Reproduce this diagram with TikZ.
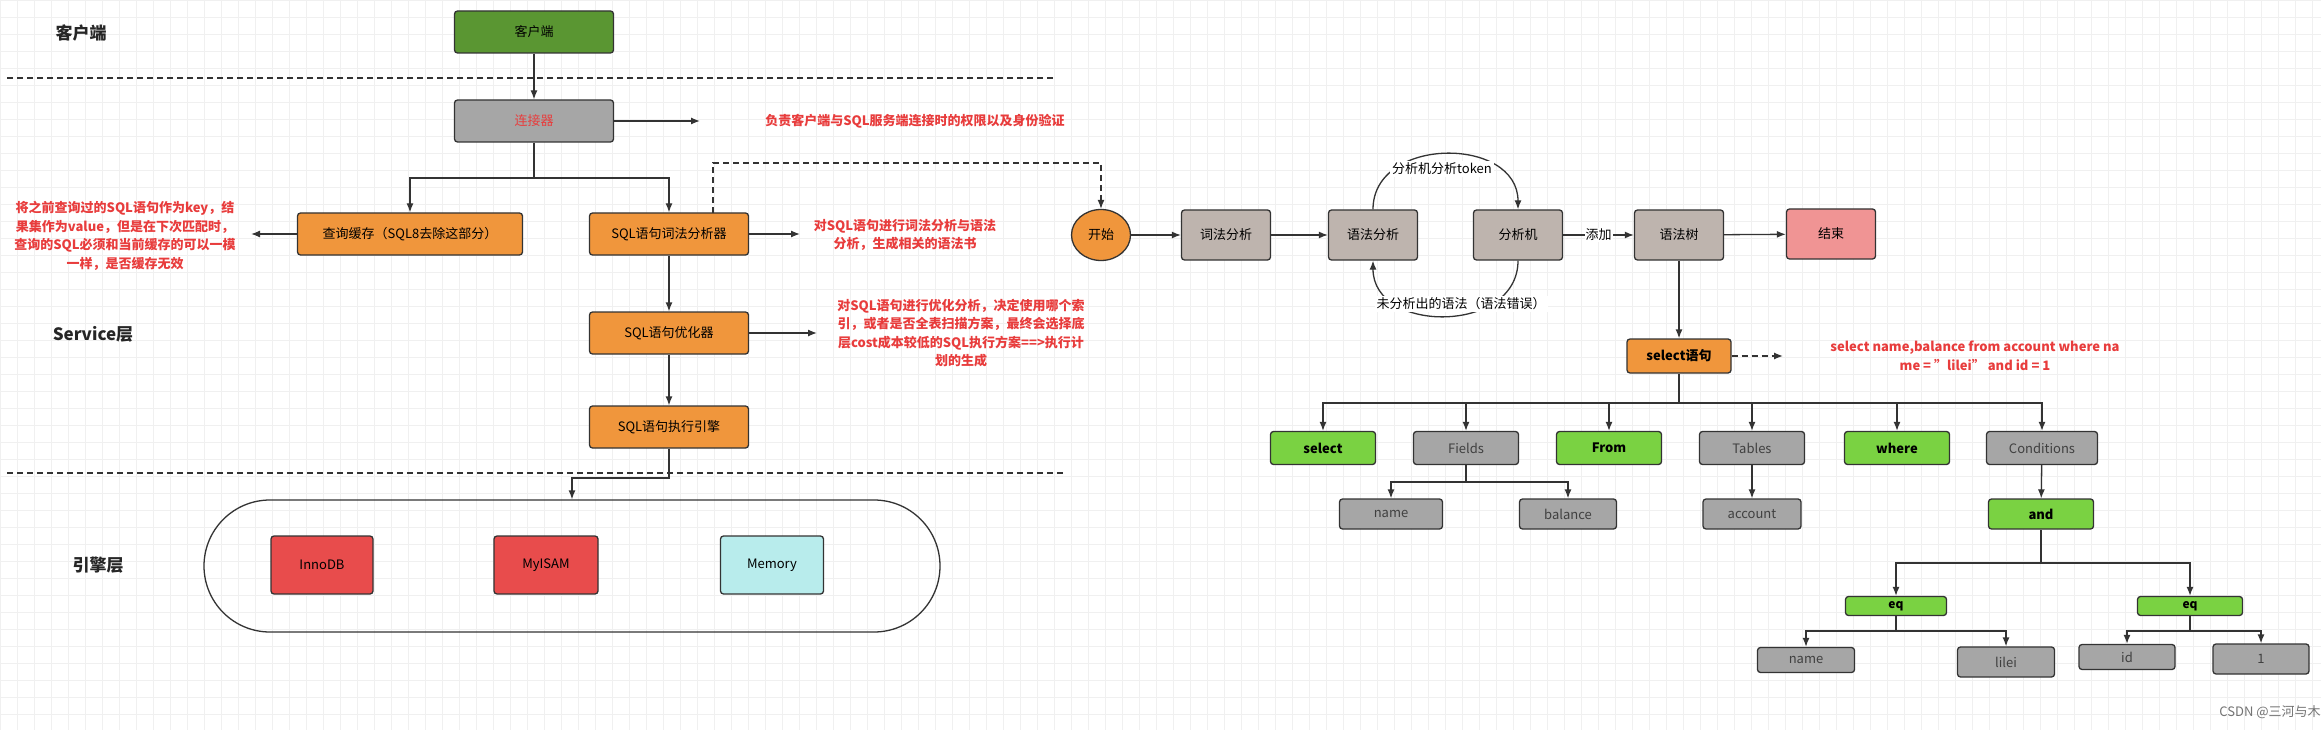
\documentclass[tikz,border=0pt]{standalone}
\usepackage{fontspec}
\setmainfont{Noto Sans CJK SC}
\usetikzlibrary{arrows.meta,shapes.geometric}
\definecolor{gr}{HTML}{5A9632}
\definecolor{og}{HTML}{F0963C}
\definecolor{gy}{HTML}{A6A6A6}
\definecolor{br}{HTML}{BEB4AE}
\definecolor{lg}{HTML}{7AD242}
\definecolor{rd}{HTML}{E84C4C}
\definecolor{pk}{HTML}{F09494}
\definecolor{cy}{HTML}{B8ECEC}
\definecolor{tx}{HTML}{E83C3C}
\definecolor{lc}{HTML}{333333}
\tikzset{
 box/.style={draw=lc,line width=1.3pt,rounded corners=3pt,font=\fontsize{13}{15}\selectfont,inner sep=0pt},
 ob/.style={box,fill=og,minimum width=159pt,minimum height=42pt},
 tb/.style={box,fill=br,minimum width=89pt,minimum height=50pt},
 l1/.style={box,minimum width=105pt,minimum height=33pt},
 l2/.style={box,fill=gy,minimum width=100pt,minimum height=30pt,text=black!75},
 arr/.style={draw=lc,line width=1.3pt,-{Latex[length=9pt,width=7pt]}},
 cn/.style={draw=lc,line width=1.3pt},
 note/.style={text=tx,font=\bfseries\fontsize{13}{18.5}\selectfont,align=center},
 dsh/.style={draw=lc,line width=1.3pt,dash pattern=on 6pt off 4pt},
 lay/.style={font=\bfseries\fontsize{17}{20}\selectfont,text=black!85}
}
\begin{document}
\begin{tikzpicture}[x=1pt,y=-1pt]
\useasboundingbox (0,0) rectangle (2321,730);
\fill[white] (0,0) rectangle (2321,730);
\foreach \i in {0,17,...,2321} \draw[black!6,line width=0.6pt] (\i,0)--(\i,730);
\foreach \j in {0,17,...,730} \draw[black!6,line width=0.6pt] (0,\j)--(2321,\j);
% layers
\node[lay] (lcl) at (81,33) {客户端};
\node[lay] (ls) at (93,334) {Service层};
\node[lay] (le) at (98,565) {引擎层};
\draw[dsh] (7,78)--(1053,78);
\draw[dsh] (7,473)--(1065,473);
% left column
\node[box,fill=gr,minimum width=159pt,minimum height=42pt] (cli) at (534,32) {客户端};
\node[box,fill=gy,minimum width=159pt,minimum height=42pt,text=tx] (con) at (534,121) {连接器};
\node[ob,minimum width=225pt] (cache) at (410,234) {查询缓存（SQL8去除这部分）};
\node[ob] (lex) at (669,234) {SQL语句词法分析器};
\node[ob] (opt) at (669,333) {SQL语句优化器};
\node[ob] (exe) at (669,427) {SQL语句执行引擎};
\draw[arr] (cli)--(con);
\coordinate (conr) at (700,121);
\draw[arr] (con.east)--(conr);
\node[note] (n1) at (915,121) {负责客户端与SQL服务端连接时的权限以及身份验证};
\draw[cn] (con.south)--(534,178);
\draw[arr] (534,178)-|(cache.north);
\draw[arr] (534,178)-|(lex.north);
\coordinate (cl) at (251,234);
\draw[arr] (cache.west)--(cl);
\node[note] (n2) at (125,236) {将之前查询过的SQL语句作为key，结\\果集作为value，但是在下次匹配时，\\查询的SQL必须和当前缓存的可以一模\\一样，是否缓存无效};
\coordinate (lr) at (800,234);
\draw[arr] (lex.east)--(lr);
\node[note] (n3) at (905,235) {对SQL语句进行词法分析与语法\\分析，生成相关的语法书};
\draw[arr] (lex)--(opt);
\coordinate (or) at (817,333);
\draw[arr] (opt.east)--(or);
\node[note] (n4) at (961,333) {对SQL语句进行优化分析，决定使用哪个索\\引，或者是否全表扫描方案，最终会选择底\\层cost成本较低的SQL执行方案==>执行计\\划的生成};
\draw[arr] (opt)--(exe);
% engine
\node[draw=lc,line width=1.3pt,rounded corners=66pt,minimum width=736pt,minimum height=132pt] (eng) at (572,566) {};
\node[box,fill=rd,minimum width=102pt,minimum height=58pt] (inno) at (322,565) {InnoDB};
\node[box,fill=rd,minimum width=104pt,minimum height=58pt] (my) at (546,565) {MyISAM};
\node[box,fill=cy,minimum width=103pt,minimum height=58pt] (mem) at (772,565) {Memory};
\draw[arr] (exe.south)|-(572,478)--(eng.north);
% parse chain
\node[ellipse,draw=lc,line width=1.3pt,fill=og,minimum width=59pt,minimum height=51pt,inner sep=0pt,font=\fontsize{13}{15}\selectfont] (st) at (1101,235) {开始};
\draw[dsh,-{Latex[length=9pt,width=7pt]}] (713,213)--(713,163)-|(st.north);
\node[tb] (cf) at (1226,235) {词法分析};
\node[tb] (yf) at (1373,235) {语法分析};
\node[tb] (fxj) at (1518,235) {分析机};
\node[tb] (yfs) at (1679,235) {语法树};
\node[tb,fill=pk] (end) at (1831,234) {结束};
\draw[arr] (st)--(cf);
\draw[arr] (cf)--(yf);
\draw[arr] (fxj)--node[fill=white,inner sep=1pt,font=\fontsize{13}{15}\selectfont]{添加}(yfs);
\draw[arr] (yfs)--(end);
\draw[arr] (yf.north) to[out=90,in=90,looseness=1.3] (fxj.north);
\node[fill=white,inner sep=2pt,font=\fontsize{13}{15}\selectfont] (tok) at (1442,169) {分析机分析token};
\draw[arr] (fxj.south) to[out=-90,in=-90,looseness=1.3] (yf.south);
\node[fill=white,inner sep=2pt,font=\fontsize{13}{15}\selectfont] (err) at (1461,304) {未分析出的语法（语法错误）};
% tree
\node[box,fill=og,minimum width=104pt,minimum height=34pt,font=\bfseries\fontsize{13}{15}\selectfont] (sel) at (1679,356) {select语句};
\draw[arr] (yfs)--(sel);
\coordinate (sr) at (1783,356);
\draw[dsh,-{Latex[length=9pt,width=7pt]}] (sel.east)--(sr);
\node[note] (n5) at (1975,356) {select name,balance from account where na\\me = "lilei" and id = 1};
\node[l1,fill=lg,font=\bfseries\fontsize{13}{15}\selectfont] (a1) at (1323,448) {select};
\node[l1,fill=gy,text=black!75] (a2) at (1466,448) {Fields};
\node[l1,fill=lg,font=\bfseries\fontsize{13}{15}\selectfont] (a3) at (1609,448) {From};
\node[l1,fill=gy,text=black!75] (a4) at (1752,448) {Tables};
\node[l1,fill=lg,font=\bfseries\fontsize{13}{15}\selectfont] (a5) at (1897,448) {where};
\node[l1,fill=gy,text=black!75,minimum width=111pt] (a6) at (2042,448) {Conditions};
\draw[cn] (sel.south)--(1679,403);
\foreach \n in {a1,a2,a3,a4,a5,a6} \draw[arr] (1679,403)-|(\n.north);
\node[l2,minimum width=103pt] (b1) at (1391,514) {name};
\node[l2,minimum width=97pt] (b2) at (1568,514) {balance};
\node[l2,minimum width=98pt] (b3) at (1752,514) {account};
\node[l1,fill=lg,minimum height=30pt,font=\bfseries\fontsize{13}{15}\selectfont] (b4) at (2041,514) {and};
\draw[cn] (a2.south)--(1466,482);
\draw[arr] (1466,482)-|(b1.north);
\draw[arr] (1466,482)-|(b2.north);
\draw[arr] (a4)--(b3);
\draw[arr] (a6)--(b4);
\node[box,fill=lg,minimum width=101pt,minimum height=19pt,font=\bfseries\fontsize{12}{14}\selectfont] (e1) at (1896,606) {eq};
\node[box,fill=lg,minimum width=105pt,minimum height=19pt,font=\bfseries\fontsize{12}{14}\selectfont] (e2) at (2190,606) {eq};
\draw[cn] (b4.south)--(2041,563);
\draw[arr] (2041,563)-|(e1.north);
\draw[arr] (2041,563)-|(e2.north);
\node[l2,minimum width=97pt,minimum height=25pt] (c1) at (1806,660) {name};
\node[l2,minimum width=97pt] (c2) at (2006,662) {lilei};
\node[l2,minimum width=96pt,minimum height=25pt] (c3) at (2127,657) {id};
\node[l2,minimum width=96pt] (c4) at (2261,659) {1};
\draw[cn] (e1.south)--(1896,631);
\draw[arr] (1896,631)-|(c1.north);
\draw[arr] (1896,631)-|(c2.north);
\draw[cn] (e2.south)--(2190,631);
\draw[arr] (2190,631)-|(c3.north);
\draw[arr] (2190,631)-|(c4.north);
\node[text=black!55,font=\fontsize{13}{15}\selectfont] (wm) at (2270,712) {CSDN @三河与木};
\end{tikzpicture}
\end{document}
